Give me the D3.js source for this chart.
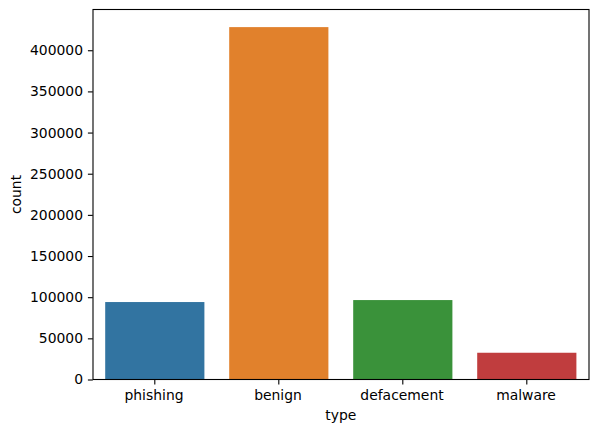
<!DOCTYPE html>
<html>
<head>
<meta charset="utf-8">
<script src="https://cdn.jsdelivr.net/npm/d3@7"></script>
<style>
  html, body { margin: 0; padding: 0; background: #fff; }
  svg { display: block; }
  text { font-family: "DejaVu Sans", sans-serif; fill: #000; }
</style>
</head>
<body>
<div id="chart"></div>
<script>
const categories = ["phishing", "benign", "defacement", "malware"];
const counts = [94100, 428100, 96500, 32500];
const colors = ["#3274a1", "#e1812c", "#3a923a", "#c03d3e"];
const yTicks = [0, 50000, 100000, 150000, 200000, 250000, 300000, 350000, 400000];

const width = 598, height = 432;
const plotLeft = 92.8, plotRight = 588.8, plotTop = 9.5, plotBottom = 379.5;

const svg = d3.select("#chart").append("svg")
  .attr("width", width)
  .attr("height", height);

const x = d3.scaleBand()
  .domain(categories)
  .range([plotLeft, plotRight])
  .paddingInner(0.2)
  .paddingOuter(0.1);

const y = d3.scaleLinear()
  .domain([0, 449500])
  .range([plotBottom, plotTop]);

svg.selectAll("rect.bar")
  .data(categories)
  .enter()
  .append("rect")
    .attr("class", "bar")
    .attr("x", d => x(d))
    .attr("y", (d, i) => y(counts[i]))
    .attr("width", x.bandwidth())
    .attr("height", (d, i) => y(0) - y(counts[i]))
    .attr("fill", (d, i) => colors[i]);

const xAxis = svg.append("g")
  .attr("transform", "translate(0," + plotBottom + ")")
  .call(d3.axisBottom(x).tickSize(4.9).tickPadding(5.6));

const yAxis = svg.append("g")
  .attr("transform", "translate(" + plotLeft + ",0)")
  .call(d3.axisLeft(y).tickValues(yTicks).tickFormat(d3.format("d")).tickSize(4.9).tickPadding(4.9));

[xAxis, yAxis].forEach(axis => {
  axis.selectAll("text").style("font-size", "13.9px").style("font-family", '"DejaVu Sans", sans-serif');
  axis.selectAll(".tick line").attr("stroke", "#000").attr("stroke-width", 1.1);
  axis.select(".domain").remove();
});
xAxis.selectAll("text").attr("dx", -0.8);

// frame goes on top of the bars
svg.append("rect")
  .attr("x", plotLeft + 0.2)
  .attr("y", plotTop)
  .attr("width", plotRight - plotLeft)
  .attr("height", plotBottom - plotTop)
  .attr("fill", "none")
  .attr("stroke", "#000")
  .attr("stroke-width", 1.1);

svg.append("text")
  .attr("x", (plotLeft + plotRight) / 2)
  .attr("y", 420)
  .attr("text-anchor", "middle")
  .style("font-size", "13.9px")
  .text("type");

svg.append("text")
  .attr("transform", "translate(21," + (plotTop + plotBottom) / 2 + ") rotate(-90)")
  .attr("text-anchor", "middle")
  .style("font-size", "13.9px")
  .text("count");
</script>
</body>
</html>
